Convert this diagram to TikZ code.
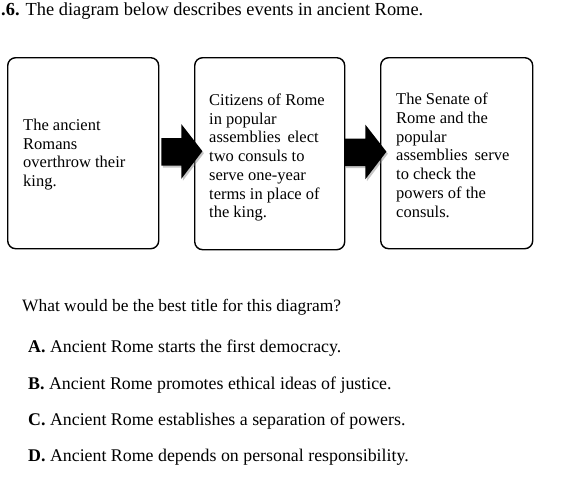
\documentclass[tikz,border=0pt]{standalone}
\usepackage{fontspec}
\setmainfont{Liberation Serif}
\usetikzlibrary{shadows,calc}
\tikzset{
  box/.style={draw=black, line width=1.4pt, rounded corners=8pt, fill=white, anchor=north west, inner sep=0pt},
  boxtext/.style={anchor=north west, inner sep=0pt, align=left, font=\fontsize{16.5}{18.7}\selectfont},
  blockarrow/.style={fill=black, drop shadow={opacity=0.45, shadow xshift=1.5pt, shadow yshift=-2pt}},
  qtext/.style={anchor=base west, inner sep=0pt, font=\fontsize{17.4}{20}\selectfont},
  otext/.style={anchor=base west, inner sep=0pt, font=\fontsize{17.85}{20}\selectfont},
}
\begin{document}
\begin{tikzpicture}[x=1pt, y=-1pt]
\useasboundingbox (0,0) rectangle (577,477);
\node[anchor=base west, inner sep=0pt, font=\fontsize{18.4}{20}\selectfont] (title) at (1,15) {\textbf{.6.} The diagram below describes events in ancient Rome.};

\node[box, minimum width=151pt, minimum height=191pt] (b1) at (7,57) {};
\node[box, minimum width=150pt, minimum height=192pt] (b2) at (194,57) {};
\node[box, minimum width=152pt, minimum height=191pt] (b3) at (380,57) {};

\node[boxtext] (t1) at (23,118.7) {The ancient\\Romans\\overthrow their\\king.};
\node[boxtext] (t2) at (209,93.7) {Citizens of Rome\\in popular\\assemblies\, elect\\two consuls to\\serve one-year\\terms in place of\\the king.};
\node[boxtext] (t3) at (396,93) {The Senate of\\Rome and the\\popular\\assemblies\, serve\\to check the\\powers of the\\consuls.};

\fill[blockarrow, shift={(b1.east)}] (2,-15) -- (22,-15) -- (22,-29) -- (43,-2) -- (22,25.5) -- (22,12.5) -- (2,12.5) -- cycle;
\fill[blockarrow, shift={(b2.east)}] (-1,-15) -- (20,-15) -- (20,-29) -- (41,-2) -- (20,25.5) -- (20,12.5) -- (-1,12.5) -- cycle;

\node[qtext] (q) at (22,311.7) {What would be the best title for this diagram?};
\node[otext] (oa) at (28,352.7) {\textbf{A.} Ancient Rome starts the first democracy.};
\node[otext] (ob) at (28,389.5) {\textbf{B.} Ancient Rome promotes ethical ideas of justice.};
\node[otext] (oc) at (28,425.7) {\textbf{C.} Ancient Rome establishes a separation of powers.};
\node[otext] (od) at (28,461.7) {\textbf{D.} Ancient Rome depends on personal responsibility.};
\end{tikzpicture}
\end{document}
